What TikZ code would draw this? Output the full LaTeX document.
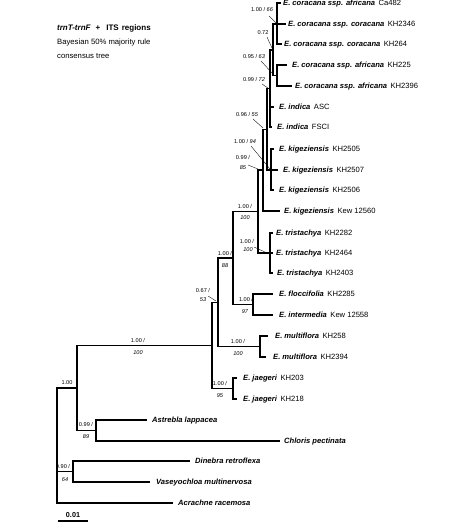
\documentclass[tikz,border=0pt]{standalone}
\usepackage{fontspec}
\setmainfont{Liberation Sans}
\newcommand\taxa[2]{\textbf{\textit{#1}}\hspace{3.5pt}#2}
\tikzset{
  br/.style={line width=1.15pt},
  ld/.style={line width=0.35pt},
  taxon/.style={anchor=base west, inner sep=0pt, font=\fontsize{7.6}{9}\selectfont},
  lab/.style={anchor=base, inner sep=0pt, font=\fontsize{5.6}{6.5}\selectfont},
  ttl/.style={anchor=base west, inner sep=0pt, font=\fontsize{7.7}{9}\selectfont},
}
\begin{document}
\begin{tikzpicture}[x=1pt,y=-1pt]
\useasboundingbox (0,0) rectangle (474,526);
% internal nodes
\coordinate (P1) at (277,24);
\coordinate (P2) at (277,75.5);
\coordinate (P3) at (273,50);
\coordinate (P4) at (270,88.5);
\coordinate (P5) at (267,129.25);
\coordinate (E)  at (271,170);
\coordinate (P6) at (263,170);
\coordinate (P7) at (258,211.5);
\coordinate (T)  at (270,253);
\coordinate (P8) at (233,258);
\coordinate (F)  at (253,304.5);
\coordinate (P9) at (218,302.25);
\coordinate (M)  at (260,346.5);
\coordinate (J)  at (233,388.5);
\coordinate (P10) at (212,345.4);
\coordinate (P11) at (77,388);
\coordinate (AC) at (96,430.5);
\coordinate (DV) at (73,471.5);
\coordinate (R)  at (57,445.5);
% leaf tips
\coordinate (t0) at (281,3);
\coordinate (t1) at (286,24);
\coordinate (t2) at (282,44);
\coordinate (t3) at (287,65);
\coordinate (t4) at (292,86);
\coordinate (t5) at (274,107);
\coordinate (t6) at (272,127);
\coordinate (t7) at (274,149);
\coordinate (t8) at (278,170);
\coordinate (t9) at (274,190);
\coordinate (t10) at (280,211);
\coordinate (t11) at (273,233);
\coordinate (t12) at (273,253);
\coordinate (t13) at (273,273);
\coordinate (t14) at (273,294);
\coordinate (t15) at (273,315);
\coordinate (t16) at (268,336);
\coordinate (t17) at (266,357);
\coordinate (t18) at (237,378);
\coordinate (t19) at (237,399);
\coordinate (t20) at (147,420);
\coordinate (t21) at (280,441);
\coordinate (t22) at (190,461);
\coordinate (t23) at (150,482);
\coordinate (t24) at (173,503);
% branches
\draw[br] (P1) |- (t0) (P1) |- (t1) (P1) |- (t2);
\draw[br] (P2) |- (t3) (P2) |- (t4);
\draw[br] (P3) |- (P1) (P3) |- (P2);
\draw[br] (P4) |- (P3) (P4) |- (t5) (P4) |- (t6);
\draw[br] (P5) |- (P4) (P5) |- (E);
\draw[br] (E) |- (t7) (E) |- (t8) (E) |- (t9);
\draw[br] (P6) |- (P5) (P6) |- (t10);
\draw[br] (P7) |- (P6) (P7) |- (T);
\draw[br] (T) |- (t11) (T) |- (t12) (T) |- (t13);
\draw[br] (P8) |- (P7) (P8) |- (F);
\draw[br] (F) |- (t14) (F) |- (t15);
\draw[br] (P9) |- (P8) (P9) |- (M);
\draw[br] (M) |- (t16) (M) |- (t17);
\draw[br] (P10) |- (P9) (P10) |- (J);
\draw[br] (J) |- (t18) (J) |- (t19);
\draw[br] (P11) |- (P10) (P11) |- (AC);
\draw[br] (AC) |- (t20) (AC) |- (t21);
\draw[br] (DV) |- (t22) (DV) |- (t23);
\draw[br] (R) |- (P11) (R) |- (DV) (R) |- (t24);
% taxa
\node[taxon] (n0) at (283,5.7) {\taxa{E. coracana ssp. africana}{Ca482}};
\node[taxon] (n1) at (288,26.7) {\taxa{E. coracana ssp. coracana}{KH2346}};
\node[taxon] (n2) at (284,46.7) {\taxa{E. coracana ssp. coracana}{KH264}};
\node[taxon] (n3) at (292,67.7) {\taxa{E. coracana ssp. africana}{KH225}};
\node[taxon] (n4) at (295,88.7) {\taxa{E. coracana ssp. africana}{KH2396}};
\node[taxon] (n5) at (279,109.7) {\taxa{E. indica}{ASC}};
\node[taxon] (n6) at (277,129.7) {\taxa{E. indica}{FSCI}};
\node[taxon] (n7) at (279,151.7) {\taxa{E. kigeziensis}{KH2505}};
\node[taxon] (n8) at (283,172.7) {\taxa{E. kigeziensis}{KH2507}};
\node[taxon] (n9) at (279,192.7) {\taxa{E. kigeziensis}{KH2506}};
\node[taxon] (n10) at (284,213.7) {\taxa{E. kigeziensis}{Kew 12560}};
\node[taxon] (n11) at (276,235.7) {\taxa{E. tristachya}{KH2282}};
\node[taxon] (n12) at (276,255.7) {\taxa{E. tristachya}{KH2464}};
\node[taxon] (n13) at (277,275.7) {\taxa{E. tristachya}{KH2403}};
\node[taxon] (n14) at (279,296.7) {\taxa{E. floccifolia}{KH2285}};
\node[taxon] (n15) at (279,317.7) {\taxa{E. intermedia}{Kew 12558}};
\node[taxon] (n16) at (275,338.7) {\taxa{E. multiflora}{KH258}};
\node[taxon] (n17) at (273,359.7) {\taxa{E. multiflora}{KH2394}};
\node[taxon] (n18) at (243,380.7) {\taxa{E. jaegeri}{KH203}};
\node[taxon] (n19) at (243,401.7) {\taxa{E. jaegeri}{KH218}};
\node[taxon] (n20) at (152,422.7) {\textbf{\textit{Astrebla lappacea}}};
\node[taxon] (n21) at (284,443.7) {\textbf{\textit{Chloris pectinata}}};
\node[taxon] (n22) at (195,463.7) {\textbf{\textit{Dinebra retroflexa}}};
\node[taxon] (n23) at (156,484.7) {\textbf{\textit{Vaseyochloa multinervosa}}};
\node[taxon] (n24) at (178,505.7) {\textbf{\textit{Acrachne racemosa}}};
% support labels
\node[lab] (s1) at (262,12) {1.00 / \textit{66}};
\node[lab] (s2) at (263,35) {0.72};
\node[lab] (s3) at (254,59) {0.95 / \textit{63}};
\node[lab] (s4) at (254,82) {0.99 / \textit{72}};
\node[lab] (s5) at (247,117) {0.96 / \textit{55}};
\node[lab] (s6) at (245,144) {1.00 / \textit{94}};
\node[lab] (s7a) at (243,160) {0.99 /};
\node[lab] (s7b) at (243,169.5) {\textit{85}};
\node[lab] (s8a) at (245,208) {1.00 /};
\node[lab] (s8b) at (245,219) {\textit{100}};
\node[lab] (s9a) at (247,243) {1.00 /};
\node[lab] (s9b) at (248,251) {\textit{100}};
\node[lab] (s10a) at (225,255) {1.00 /};
\node[lab] (s10b) at (225,267) {\textit{88}};
\node[lab] (s11a) at (203,292) {0.67 /};
\node[lab] (s11b) at (203,301) {\textit{53}};
\node[lab] (s12a) at (246,301) {1.00 /};
\node[lab] (s12b) at (245,313.5) {\textit{97}};
\node[lab] (s13a) at (238,343) {1.00 /};
\node[lab] (s13b) at (238,355) {\textit{100}};
\node[lab] (s14a) at (220,385) {1.00 /};
\node[lab] (s14b) at (220,397) {\textit{95}};
\node[lab] (s15a) at (138,342) {1.00 /};
\node[lab] (s15b) at (138,354) {\textit{100}};
\node[lab] (s16) at (67,384) {1.00};
\node[lab] (s17a) at (86,426) {0.99 /};
\node[lab] (s17b) at (86,438) {\textit{89}};
\node[lab] (s18a) at (63,468) {0.90 /};
\node[lab] (s18b) at (65,481) {\textit{64}};
% leader lines
\coordinate (q1) at (269,16); \coordinate (e1) at (276,23);
\coordinate (q2) at (267,37); \coordinate (e2) at (272,48);
\coordinate (q3) at (261,61); \coordinate (e3) at (273,74);
\coordinate (q4) at (262,84); \coordinate (e4) at (268,88);
\coordinate (q5) at (253,119); \coordinate (e5) at (263,128);
\coordinate (q6) at (251,146); \coordinate (e6) at (270,169);
\coordinate (q7) at (248,165); \coordinate (e7) at (258,169);
\coordinate (q9) at (254,247); \coordinate (e9) at (267,253);
\coordinate (q11) at (208,296); \coordinate (e11) at (216,301);
\draw[ld] (q1) -- (e1) (q2) -- (e2) (q3) -- (e3) (q4) -- (e4) (q5) -- (e5)
  (q6) -- (e6) (q7) -- (e7) (q9) -- (e9) (q11) -- (e11);
% title
\node[ttl] (title) at (57,30.9) {\fontsize{8}{9}\selectfont\textbf{\textit{trnT-trnF}\hspace{5pt}+\hspace{6pt}ITS\hspace{3pt}regions}};
\node[ttl] (sub1) at (57,44.8) {Bayesian 50\% majority rule};
\node[ttl] (sub2) at (57,58.8) {consensus tree};
% scale bar
\coordinate (sb1) at (58,521); \coordinate (sb2) at (88,521);
\draw[line width=1.15pt] (sb1) -- (sb2);
\node[lab, font=\fontsize{7.2}{8}\selectfont\bfseries] (sbl) at (73,517) {0.01};
\end{tikzpicture}
\end{document}
